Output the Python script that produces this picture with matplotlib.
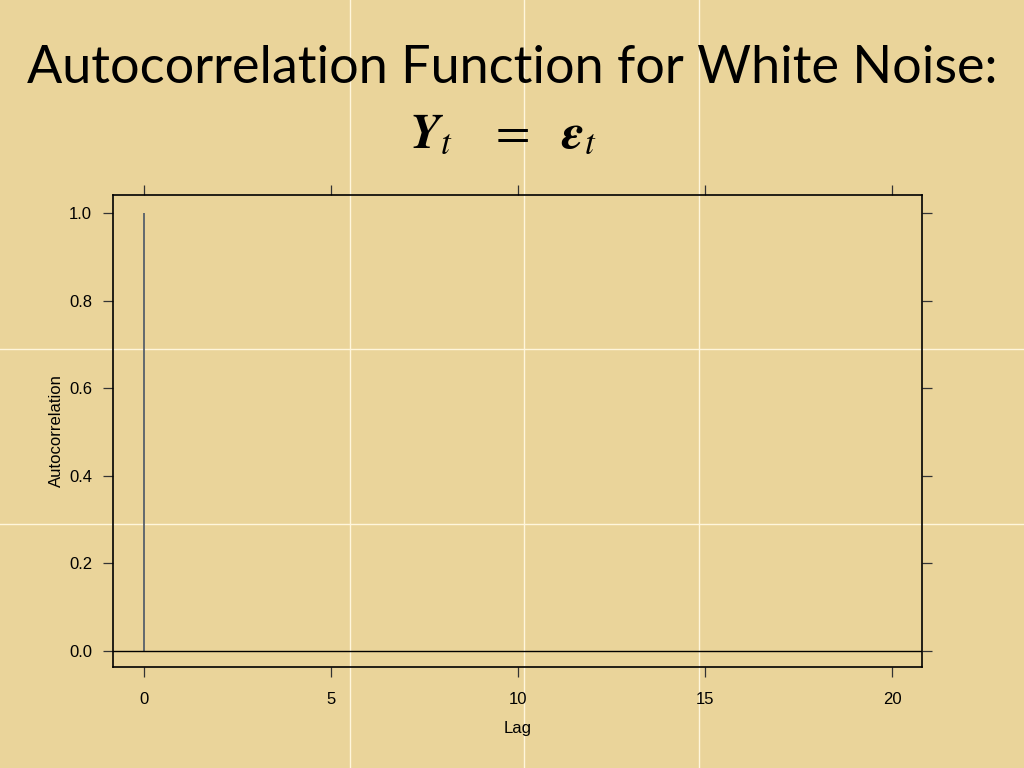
import numpy as np
import matplotlib.pyplot as plt
from matplotlib.lines import Line2D

# ACF of white noise: only lag 0 is non-zero
lags = [0]
acf_vals = [1.0]
x_ticks = [0, 5, 10, 15, 20]
y_ticks = [0.0, 0.2, 0.4, 0.6, 0.8, 1.0]

bg = '#EAD49A'
plt.rcParams['mathtext.fontset'] = 'stix'

fig = plt.figure(figsize=(10.24, 7.68), dpi=100)
fig.patch.set_facecolor(bg)

# tile seams of the slide background
for xs in [350, 524, 699]:
    fig.add_artist(Line2D([xs / 1024, xs / 1024], [0, 1], color='#FFF6DC', lw=1.0, zorder=0))
for ys in [349, 524]:
    fig.add_artist(Line2D([0, 1], [1 - ys / 768, 1 - ys / 768], color='#FFF6DC', lw=1.0, zorder=0))

fig.text(0.5, 0.911, 'Autocorrelation Function for White Noise:', ha='center', va='center',
         fontsize=37.5, family='Lato', color='black')
fig.text(0.491, 0.826, r'$\mathbfit{Y}_{t}\ \ \ =\ \ \mathbfit{\varepsilon}_{t}$', ha='center', va='center',
         fontsize=36, color='black')

ax = fig.add_axes([113 / 1024, 1 - 667 / 768, (922 - 113) / 1024, (667 - 195) / 768])
ax.set_facecolor('none')
ax.vlines(lags, 0, acf_vals, color='#4B5666', lw=1.2)
ax.axhline(0, color='black', lw=1.0)

ax.set_xlim(-0.83, 20.8)
ax.set_ylim(-0.0365, 1.041)
ax.set_xticks(x_ticks)
ax.set_yticks(y_ticks)
ax.set_yticklabels([f'{v:.1f}' for v in y_ticks])
ax.tick_params(direction='out', length=7, width=0.9, color='#333333',
               top=True, right=True, labelsize=12)
ax.tick_params(axis='y', pad=8)
ax.tick_params(axis='x', pad=11)
for lab in ax.get_xticklabels() + ax.get_yticklabels():
    lab.set_family('Liberation Sans')
for sp in ax.spines.values():
    sp.set_linewidth(1.2)
    sp.set_color('black')

ax.set_xlabel('Lag', fontsize=12, family='Liberation Sans', labelpad=10)
ax.set_ylabel('Autocorrelation', fontsize=12, family='Liberation Sans', labelpad=4)

fig.savefig('out.png', dpi=100, facecolor=bg)
